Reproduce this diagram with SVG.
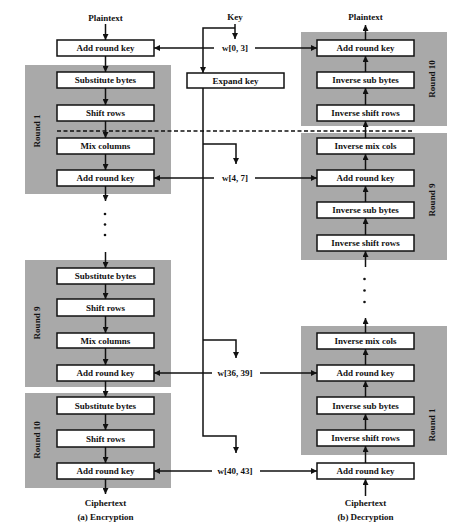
<svg xmlns="http://www.w3.org/2000/svg" width="474" height="530" viewBox="0 0 474 530">
<defs>
<marker id="ah" viewBox="0 0 10 10" refX="10" refY="5" markerWidth="6" markerHeight="6" markerUnits="userSpaceOnUse" orient="auto"><path d="M0,0 L10,5 L0,10 z" fill="#111"/></marker>
<style>
.bg{fill:#ffffff}
.round{fill:#a9a9a9}
.box{fill:#ffffff;stroke:#111;stroke-width:1.5}
.t{font-family:"Liberation Serif",serif;font-size:9px;font-weight:bold;fill:#111;text-anchor:middle}
.lbl{font-family:"Liberation Serif",serif;font-size:9px;font-weight:bold;fill:#111;text-anchor:middle}
.rl{font-family:"Liberation Serif",serif;font-size:9px;font-weight:bold;fill:#111;text-anchor:middle}
.ln{fill:none;stroke:#111;stroke-width:1.5}
.ar{fill:none;stroke:#111;stroke-width:1.5;marker-end:url(#ah)}
.dash{fill:none;stroke:#111;stroke-width:1.4;stroke-dasharray:4,2.5}
.dot{fill:#111}
</style>
</defs>
<rect class="bg" x="0" y="0" width="474" height="530"/>

<g id="rounds">
<g id="enc-round1"><rect class="round" x="25" y="65" width="146" height="129"/><text class="rl" transform="translate(40,131) rotate(-90)">Round 1</text></g>
<g id="enc-round9"><rect class="round" x="25" y="260" width="146" height="127"/><text class="rl" transform="translate(40,323) rotate(-90)">Round 9</text></g>
<g id="enc-round10"><rect class="round" x="25" y="393" width="146" height="95"/><text class="rl" transform="translate(40,440) rotate(-90)">Round 10</text></g>
<g id="dec-round10"><rect class="round" x="301" y="32" width="146" height="94"/><text class="rl" transform="translate(435,79) rotate(-90)">Round 10</text></g>
<g id="dec-round9"><rect class="round" x="301" y="133" width="146" height="127"/><text class="rl" transform="translate(435,200) rotate(-90)">Round 9</text></g>
<g id="dec-round1"><rect class="round" x="301" y="326" width="146" height="129"/><text class="rl" transform="translate(435,425) rotate(-90)">Round 1</text></g>
</g>

<g id="connectors">
<line class="dash" x1="57" y1="131" x2="413" y2="131"/>
<!-- encryption column -->
<line class="ar" x1="105.5" y1="24" x2="105.5" y2="40"/>
<line class="ar" x1="105.5" y1="56" x2="105.5" y2="72"/>
<line class="ar" x1="105.5" y1="88" x2="105.5" y2="105"/>
<line class="ar" x1="105.5" y1="121" x2="105.5" y2="138"/>
<line class="ar" x1="105.5" y1="154" x2="105.5" y2="170"/>
<line class="ar" x1="105.5" y1="186" x2="105.5" y2="201"/>
<line class="ar" x1="105.5" y1="252" x2="105.5" y2="268"/>
<line class="ar" x1="105.5" y1="284" x2="105.5" y2="299"/>
<line class="ar" x1="105.5" y1="316" x2="105.5" y2="333"/>
<line class="ar" x1="105.5" y1="348" x2="105.5" y2="365"/>
<line class="ar" x1="105.5" y1="381" x2="105.5" y2="397"/>
<line class="ar" x1="105.5" y1="414" x2="105.5" y2="430"/>
<line class="ar" x1="105.5" y1="447" x2="105.5" y2="463"/>
<line class="ar" x1="105.5" y1="479" x2="105.5" y2="494"/>
<circle class="dot" cx="105" cy="214" r="1.3"/>
<circle class="dot" cx="105" cy="224.5" r="1.3"/>
<circle class="dot" cx="105" cy="235" r="1.3"/>
<!-- decryption column -->
<line class="ar" x1="365.5" y1="40" x2="365.5" y2="25"/>
<line class="ar" x1="365.5" y1="72" x2="365.5" y2="56"/>
<line class="ar" x1="365.5" y1="105" x2="365.5" y2="88"/>
<line class="ar" x1="365.5" y1="138" x2="365.5" y2="121"/>
<line class="ar" x1="365.5" y1="170" x2="365.5" y2="154"/>
<line class="ar" x1="365.5" y1="202" x2="365.5" y2="186"/>
<line class="ar" x1="365.5" y1="235" x2="365.5" y2="218"/>
<line class="ar" x1="365.5" y1="267" x2="365.5" y2="251"/>
<line class="ar" x1="365.5" y1="333" x2="365.5" y2="318"/>
<line class="ar" x1="365.5" y1="365" x2="365.5" y2="349"/>
<line class="ar" x1="365.5" y1="397" x2="365.5" y2="381"/>
<line class="ar" x1="365.5" y1="430" x2="365.5" y2="414"/>
<line class="ar" x1="365.5" y1="463" x2="365.5" y2="446"/>
<line class="ar" x1="365.5" y1="496" x2="365.5" y2="479"/>
<circle class="dot" cx="364.5" cy="279" r="1.3"/>
<circle class="dot" cx="364.5" cy="290.5" r="1.3"/>
<circle class="dot" cx="364.5" cy="302" r="1.3"/>
<!-- key schedule -->
<line class="ar" x1="235" y1="24" x2="235" y2="39"/>
<polyline class="ar" points="235,28 203,28 203,73"/>
<polyline class="ar" points="203,88 203,436 236,436 236,453"/>
<polyline class="ar" points="203,144 236,144 236,164"/>
<polyline class="ar" points="203,340 236,340 236,358"/>
<!-- round key arrows -->
<line class="ar" x1="214" y1="48" x2="154" y2="48"/>
<line class="ar" x1="255" y1="48" x2="317" y2="48"/>
<line class="ar" x1="214" y1="178" x2="154" y2="178"/>
<line class="ar" x1="255" y1="178" x2="317" y2="178"/>
<line class="ar" x1="212" y1="373" x2="154" y2="373"/>
<line class="ar" x1="260" y1="373" x2="317" y2="373"/>
<line class="ar" x1="212" y1="471" x2="154" y2="471"/>
<line class="ar" x1="260" y1="471" x2="317" y2="471"/>
</g>

<g id="enc-ark0"><rect class="box" x="57" y="40" width="97" height="16"/><text class="t" x="105.5" y="51">Add round key</text></g>
<g id="enc-r1-sub"><rect class="box" x="57" y="72" width="97" height="16"/><text class="t" x="105.5" y="83">Substitute bytes</text></g>
<g id="enc-r1-shift"><rect class="box" x="57" y="105" width="97" height="16"/><text class="t" x="105.5" y="116">Shift rows</text></g>
<g id="enc-r1-mix"><rect class="box" x="57" y="138" width="97" height="16"/><text class="t" x="105.5" y="149">Mix columns</text></g>
<g id="enc-r1-ark"><rect class="box" x="57" y="170" width="97" height="16"/><text class="t" x="105.5" y="181">Add round key</text></g>
<g id="enc-r9-sub"><rect class="box" x="57" y="268" width="97" height="16"/><text class="t" x="105.5" y="279">Substitute bytes</text></g>
<g id="enc-r9-shift"><rect class="box" x="57" y="299" width="97" height="17"/><text class="t" x="105.5" y="310.5">Shift rows</text></g>
<g id="enc-r9-mix"><rect class="box" x="57" y="333" width="97" height="15"/><text class="t" x="105.5" y="343.5">Mix columns</text></g>
<g id="enc-r9-ark"><rect class="box" x="57" y="365" width="97" height="16"/><text class="t" x="105.5" y="376">Add round key</text></g>
<g id="enc-r10-sub"><rect class="box" x="57" y="397" width="97" height="17"/><text class="t" x="105.5" y="408.5">Substitute bytes</text></g>
<g id="enc-r10-shift"><rect class="box" x="57" y="430" width="97" height="17"/><text class="t" x="105.5" y="441.5">Shift rows</text></g>
<g id="enc-r10-ark"><rect class="box" x="57" y="463" width="97" height="16"/><text class="t" x="105.5" y="474">Add round key</text></g>

<g id="expand-key"><rect class="box" x="187" y="73" width="97" height="15"/><text class="t" x="235.5" y="83.5">Expand key</text></g>

<g id="dec-r10-ark"><rect class="box" x="317" y="40" width="97" height="16"/><text class="t" x="365.5" y="51">Add round key</text></g>
<g id="dec-r10-isub"><rect class="box" x="317" y="72" width="97" height="16"/><text class="t" x="365.5" y="83">Inverse sub bytes</text></g>
<g id="dec-r10-ishift"><rect class="box" x="317" y="105" width="97" height="16"/><text class="t" x="365.5" y="116">Inverse shift rows</text></g>
<g id="dec-r9-imix"><rect class="box" x="317" y="138" width="97" height="16"/><text class="t" x="365.5" y="149">Inverse mix cols</text></g>
<g id="dec-r9-ark"><rect class="box" x="317" y="170" width="97" height="16"/><text class="t" x="365.5" y="181">Add round key</text></g>
<g id="dec-r9-isub"><rect class="box" x="317" y="202" width="97" height="16"/><text class="t" x="365.5" y="213">Inverse sub bytes</text></g>
<g id="dec-r9-ishift"><rect class="box" x="317" y="235" width="97" height="16"/><text class="t" x="365.5" y="246">Inverse shift rows</text></g>
<g id="dec-r1-imix"><rect class="box" x="317" y="333" width="97" height="16"/><text class="t" x="365.5" y="344">Inverse mix cols</text></g>
<g id="dec-r1-ark"><rect class="box" x="317" y="365" width="97" height="16"/><text class="t" x="365.5" y="376">Add round key</text></g>
<g id="dec-r1-isub"><rect class="box" x="317" y="397" width="97" height="17"/><text class="t" x="365.5" y="408.5">Inverse sub bytes</text></g>
<g id="dec-r1-ishift"><rect class="box" x="317" y="430" width="97" height="16"/><text class="t" x="365.5" y="441">Inverse shift rows</text></g>
<g id="dec-ark-final"><rect class="box" x="317" y="463" width="97" height="16"/><text class="t" x="365.5" y="474">Add round key</text></g>

<g id="labels">
<text class="lbl" x="105.5" y="21">Plaintext</text>
<text class="lbl" x="235" y="20">Key</text>
<text class="lbl" x="365.5" y="20">Plaintext</text>
<text class="lbl" x="235" y="51">w[0, 3]</text>
<text class="lbl" x="235" y="181">w[4, 7]</text>
<text class="lbl" x="235" y="376">w[36, 39]</text>
<text class="lbl" x="235" y="474">w[40, 43]</text>
<text class="lbl" x="105.5" y="506">Ciphertext</text>
<text class="lbl" x="105.5" y="520">(a) Encryption</text>
<text class="lbl" x="365.5" y="506">Ciphertext</text>
<text class="lbl" x="365.5" y="520">(b) Decryption</text>
</g>
</svg>
